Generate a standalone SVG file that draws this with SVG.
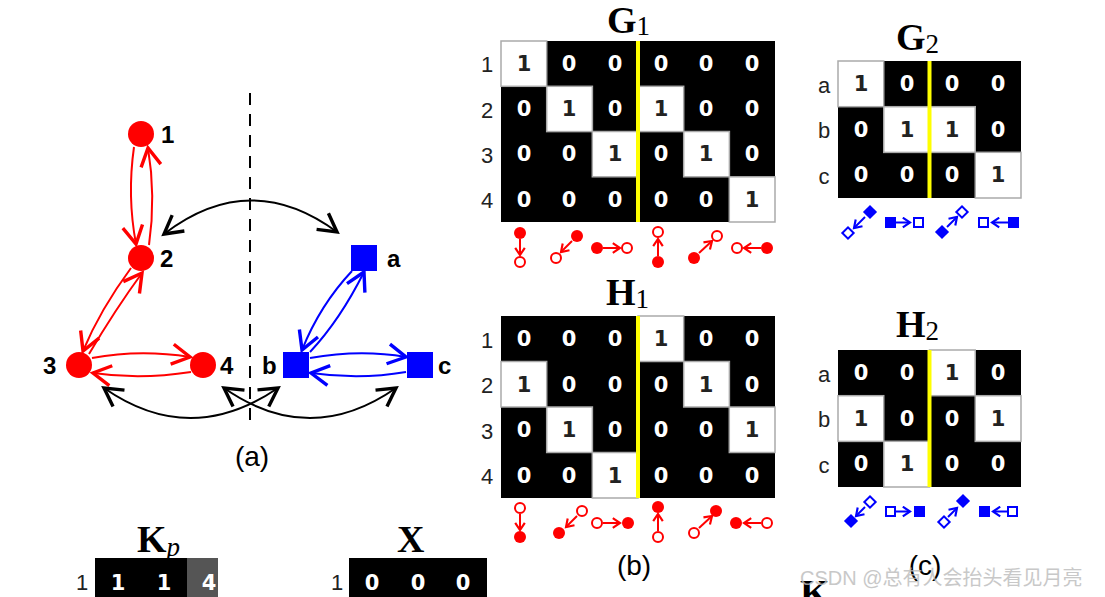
<svg xmlns="http://www.w3.org/2000/svg" width="1105" height="597" viewBox="0 0 1105 597">
<style>
.lab{font-family:"Liberation Sans",Arial,sans-serif;font-weight:bold;font-size:24px;fill:#000}
.cap{font-family:"Liberation Sans",Arial,sans-serif;font-size:28px;fill:#000;text-anchor:middle}
.rl{font-family:"Liberation Sans",Arial,sans-serif;font-size:22px;fill:#222;text-anchor:middle}
.ttl{font-family:"Liberation Serif",serif;font-weight:bold;font-size:38px;fill:#000}
.sub{font-family:"Liberation Serif",serif;font-weight:normal;font-size:27px;fill:#000}
.n0{font-family:"DejaVu Sans",sans-serif;font-weight:bold;font-size:21px;fill:#fff;text-anchor:middle}
.n1{font-family:"DejaVu Sans",sans-serif;font-weight:bold;font-size:21px;fill:#222;text-anchor:middle}
.wc{fill:#fff;stroke:#aaa;stroke-width:1.5}
.yl{stroke:#ff0;stroke-width:4}
.re{fill:none;stroke:#f00;stroke-width:2}
.be{fill:none;stroke:#00f;stroke-width:2}
.ke{fill:none;stroke:#000;stroke-width:2}
.ri{fill:none;stroke:#f00;stroke-width:2}
.rf{fill:#f00}
.ro{fill:#fff;stroke:#f00;stroke-width:2}
.bi{fill:none;stroke:#00f;stroke-width:2}
.bf{fill:#00f}
.bo{fill:#fff;stroke:#00f;stroke-width:2}
</style>
<defs>
<marker id="mr" markerUnits="userSpaceOnUse" markerWidth="24" markerHeight="24" refX="10" refY="6" orient="auto-start-reverse" viewBox="0 0 12 12"><path d="M1,1 L10,6 L1,11" fill="none" stroke="#f00" stroke-width="1.7"/></marker>
<marker id="mb" markerUnits="userSpaceOnUse" markerWidth="24" markerHeight="24" refX="10" refY="6" orient="auto-start-reverse" viewBox="0 0 12 12"><path d="M1,1 L10,6 L1,11" fill="none" stroke="#00f" stroke-width="1.7"/></marker>
<marker id="mk" markerUnits="userSpaceOnUse" markerWidth="24" markerHeight="24" refX="10" refY="6" orient="auto-start-reverse" viewBox="0 0 12 12"><path d="M1,1 L10,6 L1,11" fill="none" stroke="#000" stroke-width="1.7"/></marker>
<marker id="sr" markerUnits="userSpaceOnUse" markerWidth="12" markerHeight="12" refX="7" refY="5" orient="auto" viewBox="0 0 10 10"><path d="M1,1 L7,5 L1,9" fill="none" stroke="#f00" stroke-width="1.8"/></marker>
<marker id="sb" markerUnits="userSpaceOnUse" markerWidth="12" markerHeight="12" refX="7" refY="5" orient="auto" viewBox="0 0 10 10"><path d="M1,1 L7,5 L1,9" fill="none" stroke="#00f" stroke-width="1.8"/></marker>
</defs>

<!-- (a) graph -->
<line x1="250" y1="93" x2="250" y2="428" stroke="#000" stroke-width="2" stroke-dasharray="12,9"/>
<g id="connectors">
<path class="re" d="M134,147 Q127,196 136,244" marker-end="url(#mr)"/>
<path class="re" d="M149,245 Q156,196 148,148" marker-end="url(#mr)"/>
<path class="re" d="M131,268 Q100,310 83,351" marker-end="url(#mr)"/>
<path class="re" d="M89,354 Q115,310 142,273" marker-end="url(#mr)"/>
<path class="re" d="M92,358 Q140,349 190,357" marker-end="url(#mr)"/>
<path class="re" d="M191,372 Q140,380 93,373" marker-end="url(#mr)"/>
<path class="be" d="M352,271 Q320,305 302,350" marker-end="url(#mb)"/>
<path class="be" d="M310,352 Q340,320 364,272" marker-end="url(#mb)"/>
<path class="be" d="M310,358 Q360,349 406,357" marker-end="url(#mb)"/>
<path class="be" d="M406,372 Q360,380 311,373" marker-end="url(#mb)"/>
<path class="ke" d="M164,234 Q250,168 337,232" marker-start="url(#mk)" marker-end="url(#mk)"/>
<path class="ke" d="M104,388 Q190,448 278,388" marker-start="url(#mk)" marker-end="url(#mk)"/>
<path class="ke" d="M224,388 Q310,448 396,388" marker-start="url(#mk)" marker-end="url(#mk)"/>
</g>
<g id="n1"><circle cx="141" cy="134" r="13" fill="#f00"/><text class="lab" x="161" y="143">1</text></g>
<g id="n2"><circle cx="141" cy="258" r="13" fill="#f00"/><text class="lab" x="160" y="267">2</text></g>
<g id="n3"><circle cx="79" cy="365" r="13" fill="#f00"/><text class="lab" x="43" y="374">3</text></g>
<g id="n4"><circle cx="203" cy="365" r="13" fill="#f00"/><text class="lab" x="220" y="374">4</text></g>
<g id="na"><rect x="351" y="245" width="26" height="26" fill="#00f"/><text class="lab" x="387" y="267">a</text></g>
<g id="nb"><rect x="283" y="352" width="26" height="26" fill="#00f"/><text class="lab" x="262" y="374">b</text></g>
<g id="nc"><rect x="407" y="352" width="26" height="26" fill="#00f"/><text class="lab" x="438" y="374">c</text></g>
<text class="cap" x="252" y="466">(a)</text>

<!-- G1 -->
<g id="G1">
<text x="607" y="33" class="ttl">G<tspan class="sub" dy="2">1</tspan></text>
<rect x="501" y="41" width="274" height="181" fill="#000"/>
<rect class="wc" x="501" y="41" width="45.7" height="45.3"/>
<rect class="wc" x="546.7" y="86.3" width="45.7" height="45.3"/>
<rect class="wc" x="592.3" y="131.5" width="45.7" height="45.3"/>
<rect class="wc" x="638" y="86.3" width="45.7" height="45.3"/>
<rect class="wc" x="683.7" y="131.5" width="45.7" height="45.3"/>
<rect class="wc" x="729.3" y="176.8" width="45.7" height="45.2"/>
<line class="yl" x1="638" y1="41" x2="638" y2="222"/>
<g class="rl"><text x="487" y="72">1</text><text x="487" y="118">2</text><text x="487" y="163">3</text><text x="487" y="208">4</text></g>
<g>
<text class="n1" x="524" y="71">1</text><text class="n0" x="569" y="71">0</text><text class="n0" x="615" y="71">0</text><text class="n0" x="661" y="71">0</text><text class="n0" x="706" y="71">0</text><text class="n0" x="752" y="71">0</text>
<text class="n0" x="524" y="116">0</text><text class="n1" x="569" y="116">1</text><text class="n0" x="615" y="116">0</text><text class="n1" x="661" y="116">1</text><text class="n0" x="706" y="116">0</text><text class="n0" x="752" y="116">0</text>
<text class="n0" x="524" y="161">0</text><text class="n0" x="569" y="161">0</text><text class="n1" x="615" y="161">1</text><text class="n0" x="661" y="161">0</text><text class="n1" x="706" y="161">1</text><text class="n0" x="752" y="161">0</text>
<text class="n0" x="524" y="207">0</text><text class="n0" x="569" y="207">0</text><text class="n0" x="615" y="207">0</text><text class="n0" x="661" y="207">0</text><text class="n0" x="706" y="207">0</text><text class="n1" x="752" y="207">1</text>
</g>
<g>
<circle class="rf" cx="520" cy="233" r="6"/><line class="ri" x1="520" y1="239" x2="520" y2="255" marker-end="url(#sr)"/><circle class="ro" cx="520" cy="262" r="5"/>
<circle class="rf" cx="577" cy="236" r="6"/><line class="ri" x1="572" y1="241" x2="561" y2="252" marker-end="url(#sr)"/><circle class="ro" cx="556" cy="258" r="5"/>
<circle class="rf" cx="597" cy="248" r="6"/><line class="ri" x1="603" y1="248" x2="620" y2="248" marker-end="url(#sr)"/><circle class="ro" cx="627" cy="248" r="5"/>
<circle class="rf" cx="658" cy="262" r="6"/><line class="ri" x1="658" y1="256" x2="658" y2="239" marker-end="url(#sr)"/><circle class="ro" cx="658" cy="232" r="5"/>
<circle class="rf" cx="694" cy="258" r="6"/><line class="ri" x1="699" y1="253" x2="712" y2="241" marker-end="url(#sr)"/><circle class="ro" cx="717" cy="236" r="5"/>
<circle class="rf" cx="767" cy="248" r="6"/><line class="ri" x1="761" y1="248" x2="744" y2="248" marker-end="url(#sr)"/><circle class="ro" cx="737" cy="248" r="5"/>
</g>
</g>

<!-- H1 -->
<g id="H1">
<text x="606" y="305" class="ttl">H<tspan class="sub" dy="3">1</tspan></text>
<rect x="501" y="316" width="274" height="182" fill="#000"/>
<rect class="wc" x="638" y="316" width="45.7" height="45.5"/>
<rect class="wc" x="501" y="361.5" width="45.7" height="45.5"/>
<rect class="wc" x="683.7" y="361.5" width="45.7" height="45.5"/>
<rect class="wc" x="546.7" y="407" width="45.7" height="45.5"/>
<rect class="wc" x="729.3" y="407" width="45.7" height="45.5"/>
<rect class="wc" x="592.3" y="452.5" width="45.7" height="45.5"/>
<line class="yl" x1="638" y1="316" x2="638" y2="498"/>
<g class="rl"><text x="487" y="348">1</text><text x="487" y="393">2</text><text x="487" y="439">3</text><text x="487" y="484">4</text></g>
<g>
<text class="n0" x="524" y="346">0</text><text class="n0" x="569" y="346">0</text><text class="n0" x="615" y="346">0</text><text class="n1" x="661" y="346">1</text><text class="n0" x="706" y="346">0</text><text class="n0" x="752" y="346">0</text>
<text class="n1" x="524" y="392">1</text><text class="n0" x="569" y="392">0</text><text class="n0" x="615" y="392">0</text><text class="n0" x="661" y="392">0</text><text class="n1" x="706" y="392">1</text><text class="n0" x="752" y="392">0</text>
<text class="n0" x="524" y="437">0</text><text class="n1" x="569" y="437">1</text><text class="n0" x="615" y="437">0</text><text class="n0" x="661" y="437">0</text><text class="n0" x="706" y="437">0</text><text class="n1" x="752" y="437">1</text>
<text class="n0" x="524" y="483">0</text><text class="n0" x="569" y="483">0</text><text class="n1" x="615" y="483">1</text><text class="n0" x="661" y="483">0</text><text class="n0" x="706" y="483">0</text><text class="n0" x="752" y="483">0</text>
</g>
<g>
<circle class="ro" cx="520" cy="508" r="5"/><line class="ri" x1="520" y1="514" x2="520" y2="530" marker-end="url(#sr)"/><circle class="rf" cx="520" cy="537" r="6"/>
<circle class="ro" cx="582" cy="511" r="5"/><line class="ri" x1="577" y1="516" x2="566" y2="527" marker-end="url(#sr)"/><circle class="rf" cx="559" cy="533" r="6"/>
<circle class="ro" cx="597" cy="523" r="5"/><line class="ri" x1="603" y1="523" x2="620" y2="523" marker-end="url(#sr)"/><circle class="rf" cx="628" cy="523" r="6"/>
<circle class="ro" cx="658" cy="537" r="5"/><line class="ri" x1="658" y1="531" x2="658" y2="514" marker-end="url(#sr)"/><circle class="rf" cx="658" cy="507" r="6"/>
<circle class="ro" cx="694" cy="533" r="5"/><line class="ri" x1="699" y1="528" x2="712" y2="516" marker-end="url(#sr)"/><circle class="rf" cx="716" cy="511" r="6"/>
<circle class="ro" cx="767" cy="523" r="5"/><line class="ri" x1="761" y1="523" x2="744" y2="523" marker-end="url(#sr)"/><circle class="rf" cx="736" cy="523" r="6"/>
</g>
</g>
<text class="cap" x="634" y="575">(b)</text>

<!-- G2 -->
<g id="G2">
<text x="896" y="50" class="ttl">G<tspan class="sub" dy="3">2</tspan></text>
<rect x="838" y="61" width="183" height="137" fill="#000"/>
<rect class="wc" x="838" y="61" width="45.75" height="45.7"/>
<rect class="wc" x="883.75" y="106.7" width="45.75" height="45.7"/>
<rect class="wc" x="929.5" y="106.7" width="45.75" height="45.7"/>
<rect class="wc" x="975.25" y="152.3" width="45.75" height="45.7"/>
<line class="yl" x1="929.5" y1="61" x2="929.5" y2="198"/>
<g class="rl"><text x="824" y="93">a</text><text x="824" y="138">b</text><text x="824" y="184">c</text></g>
<text class="n1" x="861" y="91">1</text><text class="n0" x="907" y="91">0</text><text class="n0" x="952" y="91">0</text><text class="n0" x="998" y="91">0</text>
<text class="n0" x="861" y="137">0</text><text class="n1" x="907" y="137">1</text><text class="n1" x="952" y="137">1</text><text class="n0" x="998" y="137">0</text>
<text class="n0" x="861" y="182">0</text><text class="n0" x="907" y="182">0</text><text class="n0" x="952" y="182">0</text><text class="n1" x="998" y="182">1</text>
<g>
<rect class="bf" x="865" y="207" width="10" height="10" transform="rotate(45 870 212)"/><line class="bi" x1="865" y1="217" x2="854" y2="228" marker-end="url(#sb)"/><rect class="bo" x="844" y="229" width="8" height="8" transform="rotate(45 848 233)"/>
<rect class="bf" x="885" y="217" width="11" height="11"/><line class="bi" x1="896" y1="222.5" x2="910" y2="222.5" marker-end="url(#sb)"/><rect class="bo" x="914" y="218" width="9" height="9"/>
<rect class="bf" x="937" y="227" width="10" height="10" transform="rotate(45 942 232)"/><line class="bi" x1="947" y1="227" x2="957" y2="217" marker-end="url(#sb)"/><rect class="bo" x="958" y="208" width="8" height="8" transform="rotate(45 962 212)"/>
<rect class="bf" x="1008" y="217" width="11" height="11"/><line class="bi" x1="1008" y1="222.5" x2="992" y2="222.5" marker-end="url(#sb)"/><rect class="bo" x="979" y="218" width="9" height="9"/>
</g>
</g>

<!-- H2 -->
<g id="H2">
<text x="896" y="337" class="ttl">H<tspan class="sub" dy="3">2</tspan></text>
<rect x="838" y="350" width="183" height="137" fill="#000"/>
<rect class="wc" x="929.5" y="350" width="45.75" height="45.7"/>
<rect class="wc" x="838" y="395.7" width="45.75" height="45.7"/>
<rect class="wc" x="975.25" y="395.7" width="45.75" height="45.7"/>
<rect class="wc" x="883.75" y="441.3" width="45.75" height="45.7"/>
<line class="yl" x1="929.5" y1="350" x2="929.5" y2="487"/>
<g class="rl"><text x="824" y="382">a</text><text x="824" y="427">b</text><text x="824" y="473">c</text></g>
<text class="n0" x="861" y="380">0</text><text class="n0" x="907" y="380">0</text><text class="n1" x="952" y="380">1</text><text class="n0" x="998" y="380">0</text>
<text class="n1" x="861" y="426">1</text><text class="n0" x="907" y="426">0</text><text class="n0" x="952" y="426">0</text><text class="n1" x="998" y="426">1</text>
<text class="n0" x="861" y="471">0</text><text class="n1" x="907" y="471">1</text><text class="n0" x="952" y="471">0</text><text class="n0" x="998" y="471">0</text>
<g>
<rect class="bo" x="866" y="498" width="8" height="8" transform="rotate(45 870 502)"/><line class="bi" x1="865" y1="507" x2="856" y2="516" marker-end="url(#sb)"/><rect class="bf" x="846" y="516" width="10" height="10" transform="rotate(45 851 521)"/>
<rect class="bo" x="886" y="507" width="9" height="9"/><line class="bi" x1="895" y1="511.5" x2="910" y2="511.5" marker-end="url(#sb)"/><rect class="bf" x="914" y="506" width="11" height="11"/>
<rect class="bo" x="940" y="518" width="8" height="8" transform="rotate(45 944 522)"/><line class="bi" x1="948" y1="517" x2="957" y2="508" marker-end="url(#sb)"/><rect class="bf" x="958" y="496" width="10" height="10" transform="rotate(45 963 501)"/>
<rect class="bo" x="1008" y="507" width="9" height="9"/><line class="bi" x1="1008" y1="511.5" x2="993" y2="511.5" marker-end="url(#sb)"/><rect class="bf" x="979" y="506" width="11" height="11"/>
</g>
</g>
<text class="cap" x="925" y="575">(c)</text>

<!-- Kp and X -->
<g id="Kp">
<text x="137" y="552" class="ttl">K<tspan class="sub" font-style="italic" dy="4">p</tspan></text>
<rect x="95" y="558" width="123" height="40" fill="#000"/>
<rect x="187" y="558" width="31" height="40" fill="#555"/>
<text class="rl" x="82" y="590">1</text>
<text class="n0" x="118" y="590">1</text><text class="n0" x="164" y="590">1</text><text class="n0" x="209" y="590" fill="#bbb">4</text>
</g>
<g id="X">
<text x="397" y="552" class="ttl">X</text>
<rect x="349" y="558" width="138" height="40" fill="#000"/>
<text class="rl" x="337" y="590">1</text>
<text class="n0" x="372" y="590">0</text><text class="n0" x="418" y="590">0</text><text class="n0" x="463" y="590">0</text>
</g>
<text x="800" y="606" class="ttl">K</text>
<text x="800" y="585" font-family="'Liberation Sans','Noto Sans CJK SC',sans-serif" font-size="20" fill="#bbb" opacity="0.8">CSDN @总有人会抬头看见月亮</text>
</svg>
